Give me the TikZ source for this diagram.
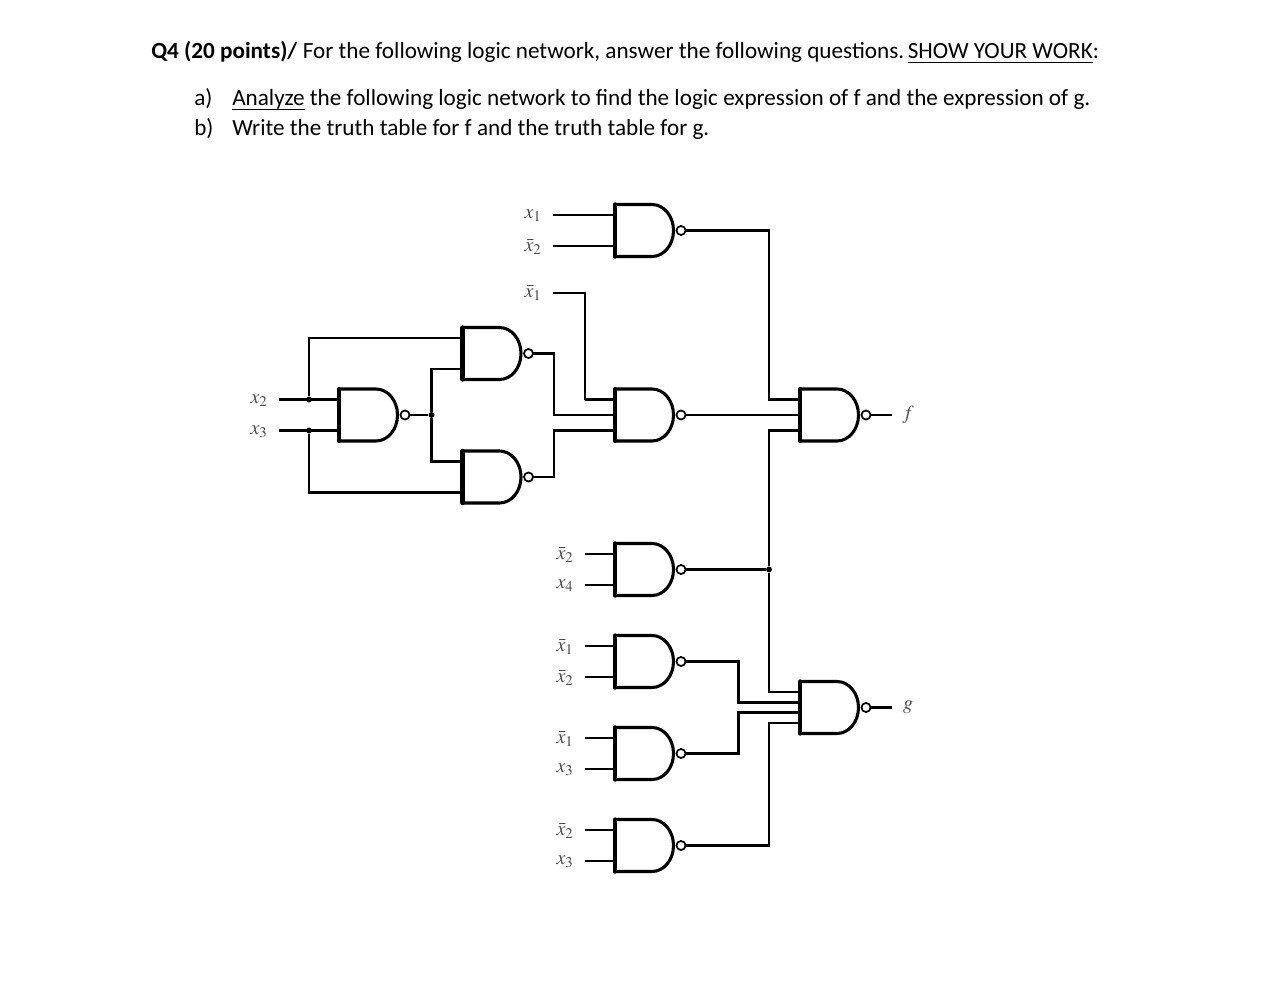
\documentclass[tikz,border=0pt]{standalone}
\usepackage{amsfonts,amsmath,amssymb}
\usepackage{mathptmx}
\usepackage{fontspec}
\setmainfont{Carlito}
\usepackage{tikz}
\usetikzlibrary{calc}

\newcommand{\ulword}[1]{\underline{\smash{#1}}}

\tikzset{
  nandg/.pic={
    \draw[line width=2.3pt,line cap=round] (0,-26) -- (37,-26) arc (-90:90:21.5 and 26) -- (0,26);
    \draw[line width=3.2pt,line cap=round] (0,-26) -- (0,26);
    \draw[line width=1.3pt,fill=white] (66,0) circle (3.4pt);
    \coordinate (-out) at (70.5,0);
    \coordinate (-a) at (0,-15.5);
    \coordinate (-b) at (0,-5);
    \coordinate (-c) at (0,0);
    \coordinate (-d) at (0,5);
    \coordinate (-e) at (0,15.5);
  },
  wire/.style={line width=1.55pt},
  inlab/.style={inner sep=0pt,minimum width=30pt,text=black!70,font=\fontsize{15}{17}\selectfont},
  outlab/.style={inner sep=0pt,minimum width=24pt,text=black!70,font=\fontsize{15}{17}\selectfont},
  jdot/.style={circle,fill,inner sep=0pt,minimum size=4.5pt},
  txt/.style={anchor=base west,inner sep=0pt,font=\fontsize{17.38}{20}\selectfont}
}

\begin{document}
\begin{tikzpicture}[x=0.75pt,y=-0.75pt]
\useasboundingbox (0,0) rectangle (1284,984);

% question text
\node[txt] (qhead) at (151,59) {\textbf{Q4 (20 points)/} For the following logic network, answer the following questions.\kern-2.5pt{} \ulword{SHOW YOUR WORK}:};
\node[txt] (qa) at (194,106) {a)};
\node[txt] (qatext) at (232,106) {\ulword{Analyze} the following logic network to find the logic expression of f and the expression of g.};
\node[txt] (qb) at (194,136) {b)};
\node[txt] (qbtext) at (232,136) {Write the truth table for f and the truth table for g.};

% gates
\pic (ga) at (615,230.5) {nandg};
\pic (gb) at (462.5,353.5) {nandg};
\pic (gc) at (462.5,477) {nandg};
\pic (gn) at (339,415) {nandg};
\pic (gd) at (615,415) {nandg};
\pic (gf) at (800,415) {nandg};
\pic (ge) at (615,569.5) {nandg};
\pic (gh) at (615,661.5) {nandg};
\pic (gi) at (615,753.5) {nandg};
\pic (gj) at (615,845.5) {nandg};
\pic (gg) at (800,707.5) {nandg};

% input labels
\node[inlab] (la) at (533,216) {$x_1$};
\node[inlab] (lb) at (533,247) {$\bar{x}_2$};
\node[inlab] (lc) at (533,293) {$\bar{x}_1$};
\node[inlab] (ld) at (259,401) {$x_2$};
\node[inlab] (le) at (259,431.5) {$x_3$};
\node[inlab] (lf) at (565,555) {$\bar{x}_2$};
\node[inlab] (lg) at (565,586) {$x_4$};
\node[inlab] (lh) at (565,647) {$\bar{x}_1$};
\node[inlab] (li) at (565,678) {$\bar{x}_2$};
\node[inlab] (lj) at (565,739) {$\bar{x}_1$};
\node[inlab] (lk) at (565,770) {$x_3$};
\node[inlab] (ll) at (565,831) {$\bar{x}_2$};
\node[inlab] (lm) at (565,862) {$x_3$};
\node[outlab] (fout) at (908,415) {$f$};
\node[outlab] (gout) at (908,707.5) {$g$};

% buses and dots
\coordinate (busa) at (769,569.5);
\coordinate (busb) at (738.5,707);
\coordinate (busc) at (554,415);
\coordinate (busd) at (585,400);
\node[jdot] (dota) at (309,399.5) {};
\node[jdot] (dotb) at (309,430.5) {};
\node[jdot] (dotc) at (431.5,415) {};
\node[jdot] (dotd) at (busa) {};

% stubs into the gates
\foreach \lab/\gt/\pin in {la/ga/a,lb/ga/e,ld/gn/a,le/gn/e,lf/ge/a,lg/ge/e,lh/gh/a,li/gh/e,lj/gi/a,lk/gi/e,ll/gj/a,lm/gj/e}
  \draw[wire] (\lab.east |- \gt-\pin) -- (\gt-\pin);

\draw[wire] (lc.east) -| (busd) |- (gd-a);

% left part
\draw[wire] (dota) |- (gb-a);
\draw[wire] (dotb) |- (gc-e);
\draw[wire] (gn-out) -- (dotc);
\draw[wire] (dotc) |- (gb-e);
\draw[wire] (dotc) |- (gc-a);
\draw[wire] (gb-out) -| (busc) -- (gd-c);
\draw[wire] (gc-out) -| (busc |- gd-e) -- (gd-e);

% right part
\draw[wire] (ga-out) -| (busa |- gf-a) -- (gf-a);
\draw[wire] (gd-out) -- (gf-c);
\draw[wire] (ge-out) -- (dotd);
\draw[wire] (gf-e) -| (dotd);
\draw[wire] (dotd) |- (gg-a);
\draw[wire] (gh-out) -| (busb |- gg-b) -- (gg-b);
\draw[wire] (gi-out) -| (busb |- gg-d) -- (gg-d);
\draw[wire] (gj-out) -| (busa |- gg-e) -- (gg-e);

\draw[wire] (gf-out) -- (fout.west);
\draw[wire] (gg-out) -- (gout.west);

\end{tikzpicture}
\end{document}
